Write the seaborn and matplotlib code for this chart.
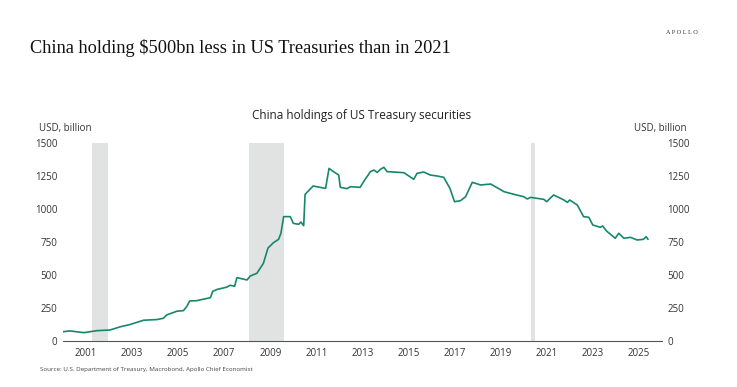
import pandas as pd
import numpy as np
import matplotlib.pyplot as plt
import seaborn as sns

# China holdings of US Treasuries, USD bn (decimal years)
year = [2000.0, 2000.3, 2000.9, 2001.0, 2001.46, 2002.04, 2002.5, 2002.9, 2003.5, 2004.07,
        2004.36, 2004.5, 2004.94, 2005.23, 2005.37, 2005.5, 2005.8, 2006.4, 2006.5, 2006.7,
        2007.1, 2007.26, 2007.45, 2007.55, 2007.99, 2008.13, 2008.42, 2008.7, 2008.9, 2009.14,
        2009.36, 2009.46, 2009.58, 2009.87, 2010.0, 2010.23, 2010.33, 2010.45, 2010.51, 2010.86,
        2011.4, 2011.55, 2011.7, 2011.97, 2012.04, 2012.33, 2012.48, 2012.9, 2013.1, 2013.35,
        2013.5, 2013.64, 2013.78, 2013.93, 2014.07, 2014.8, 2015.23, 2015.37, 2015.66, 2015.95,
        2016.24, 2016.53, 2016.8, 2017.0, 2017.26, 2017.48, 2017.77, 2018.13, 2018.57, 2019.15,
        2019.58, 2020.0, 2020.16, 2020.3, 2020.88, 2021.0, 2021.3, 2021.46, 2021.75, 2021.9,
        2022.0, 2022.33, 2022.6, 2022.83, 2023.0, 2023.33, 2023.43, 2023.6, 2023.98, 2024.13,
        2024.35, 2024.64, 2024.93, 2025.2, 2025.32, 2025.4]
holdings = [70, 76, 63, 65, 78, 83, 108, 124, 157, 162,
            172, 197, 225, 230, 260, 303, 305, 328, 376, 391,
            407, 422, 414, 480, 462, 492, 513, 588, 704, 745,
            770, 815, 942, 942, 891, 884, 901, 873, 1111, 1174,
            1156, 1308, 1288, 1257, 1164, 1154, 1169, 1164, 1220, 1283,
            1295, 1277, 1300, 1316, 1283, 1275, 1225, 1270, 1280, 1257,
            1250, 1240, 1156, 1055, 1063, 1093, 1202, 1182, 1189, 1131,
            1111, 1093, 1076, 1088, 1073, 1055, 1106, 1093, 1068, 1050,
            1068, 1030, 942, 937, 879, 861, 871, 833, 778, 816,
            778, 785, 765, 770, 790, 770]

# shaded periods (US recessions)
rec_start = [2001.25, 2008.06, 2020.32]
rec_end = [2001.95, 2009.6, 2020.5]

df = pd.DataFrame({"year": year, "holdings": holdings})

sns.set_style("white")
plt.rcParams["font.family"] = ["Open Sans", "DejaVu Sans"]

fig = plt.figure(figsize=(7.37, 3.87), dpi=100)
ax = fig.add_axes([0.0855, 0.119, 0.8125, 0.5115])

for s, e in zip(rec_start, rec_end):
    ax.axvspan(s, e, color="#e1e2e2", lw=0, zorder=0)

sns.lineplot(data=df, x="year", y="holdings", ax=ax, color="#17876b", lw=1.2)

ax.set_xlim(2000, 2026)
ax.set_ylim(0, 1500)
ax.set_xticks(range(2001, 2026, 2))
ax.set_yticks(range(0, 1501, 250))
ax.set_xlabel("")
ax.set_ylabel("")
ax.tick_params(axis="x", labelsize=7, length=3, width=0.6, color="#555555", pad=2, labelcolor="#333333")
ax.tick_params(axis="y", labelsize=7, length=0, pad=4, labelcolor="#333333")
for sp in ["top", "right", "left"]:
    ax.spines[sp].set_visible(False)
ax.spines["bottom"].set_color("#555555")
ax.spines["bottom"].set_linewidth(0.8)

ax2 = ax.twinx()
ax2.set_ylim(0, 1500)
ax2.set_yticks(range(0, 1501, 250))
ax2.tick_params(axis="y", labelsize=7, length=0, pad=4, labelcolor="#333333")
for sp in ax2.spines.values():
    sp.set_visible(False)

fig.text(39 / 737, 1 - 129 / 387, "USD, billion", fontsize=7, color="#333333", va="center", ha="left")
fig.text(686 / 737, 1 - 129 / 387, "USD, billion", fontsize=7, color="#333333", va="center", ha="right")
fig.text(362 / 737, 1 - 115 / 387, "China holdings of US Treasury securities", fontsize=8.5,
         color="#222222", ha="center", va="center")

fig.text(30 / 737, 1 - 48 / 387, "China holding $500bn less in US Treasuries than in 2021",
         fontsize=13.2, family="Liberation Serif", color="#111111", va="center", ha="left")
fig.text(698 / 737, 1 - 32 / 387, "A P O L L O", fontsize=4.5, family="Liberation Serif",
         color="#333333", va="center", ha="right")
fig.text(40 / 737, 1 - 370 / 387, "Source: U.S. Department of Treasury, Macrobond, Apollo Chief Economist",
         fontsize=4.5, color="#444444", va="center", ha="left")

fig.savefig("out.png", dpi=100)
